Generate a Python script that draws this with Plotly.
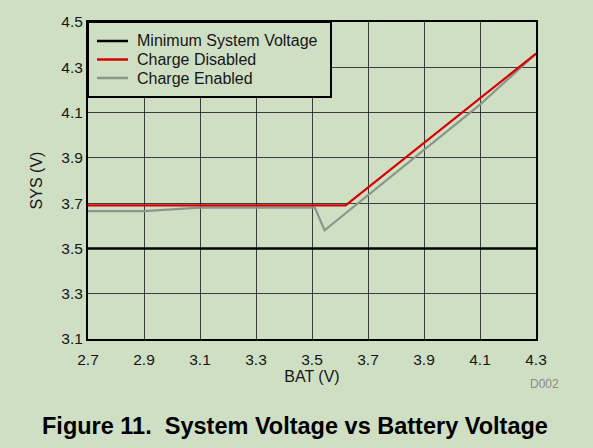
import plotly.graph_objects as go

# BAT (V) / SYS (V)
min_sys_x = [2.7, 4.3]
min_sys_y = [3.5, 3.5]

disabled_x = [2.7, 3.62, 4.3]
disabled_y = [3.69, 3.69, 4.36]

enabled_x = [2.7, 2.9, 3.1, 3.51, 3.545, 4.1, 4.3]
enabled_y = [3.665, 3.665, 3.68, 3.68, 3.58, 4.135, 4.36]

x_ticks = [2.7, 2.9, 3.1, 3.3, 3.5, 3.7, 3.9, 4.1, 4.3]
y_ticks = [3.1, 3.3, 3.5, 3.7, 3.9, 4.1, 4.3, 4.5]

legend_names = ['Minimum System Voltage', 'Charge Disabled', 'Charge Enabled']

bg = '#cfdfc4'
font_family = 'Liberation Sans, Arial, sans-serif'
text_color = '#161616'
colors = {'Minimum System Voltage': '#000000',
          'Charge Disabled': '#d80000',
          'Charge Enabled': '#8a968a'}

# plot area in pixels (figure is 593x448)
L, T, R, B = 88, 22, 536, 339
W, H = R - L, B - T


def px(x):
    return (x - L) / W


def py(y):
    return (B - y) / H


fig = go.Figure()

fig.add_trace(go.Scatter(x=min_sys_x, y=min_sys_y, mode='lines',
                         name='Minimum System Voltage',
                         line=dict(color=colors['Minimum System Voltage'], width=2.5)))
fig.add_trace(go.Scatter(x=enabled_x, y=enabled_y, mode='lines',
                         name='Charge Enabled',
                         line=dict(color=colors['Charge Enabled'], width=2.2)))
fig.add_trace(go.Scatter(x=disabled_x, y=disabled_y, mode='lines',
                         name='Charge Disabled',
                         line=dict(color=colors['Charge Disabled'], width=2.2)))

axis_common = dict(
    showgrid=True, gridcolor='rgba(20,20,20,0.8)', gridwidth=1,
    showline=True, linecolor='#000000', linewidth=2, mirror=True,
    ticks='', zeroline=False,
    tickfont=dict(size=15.5, color=text_color, family=font_family),
)

fig.update_xaxes(range=[2.7, 4.3], tickvals=x_ticks,
                 ticktext=[f'{v:.1f}' for v in x_ticks],
                 ticklabelstandoff=5,
                 title=dict(text='BAT (V)', standoff=4,
                            font=dict(size=16, color=text_color, family=font_family)),
                 **axis_common)
fig.update_yaxes(range=[3.1, 4.5], tickvals=y_ticks,
                 ticktext=[f'{v:.1f}' for v in y_ticks],
                 title=dict(text='SYS (V)', standoff=15,
                            font=dict(size=16, color=text_color, family=font_family)),
                 **axis_common)

# legend box drawn by hand, the built-in one spaces rows too far apart
fig.add_shape(type='rect', xref='paper', yref='paper',
              x0=px(L), x1=px(331), y0=py(97), y1=py(T),
              fillcolor=bg, line=dict(color='#000000', width=2), layer='above')
for i, name in enumerate(legend_names):
    row_y = 41 + i * 18.5
    fig.add_shape(type='line', xref='paper', yref='paper',
                  x0=px(97), x1=px(128), y0=py(row_y), y1=py(row_y),
                  line=dict(color=colors[name], width=2.5), layer='above')
    fig.add_annotation(text=name, xref='paper', yref='paper',
                       x=px(135), y=py(row_y), xanchor='left', yanchor='middle',
                       showarrow=False,
                       font=dict(size=16, color=text_color, family=font_family))

fig.add_annotation(text='D002', xref='paper', yref='paper', x=px(561), y=py(384),
                   xanchor='right', yanchor='middle', showarrow=False,
                   font=dict(size=12, color='#8a8a8a', family=font_family))
fig.add_annotation(text='<b>Figure 11.  System Voltage vs Battery Voltage</b>',
                   xref='paper', yref='paper', x=px(295), y=py(426),
                   xanchor='center', yanchor='middle', showarrow=False,
                   font=dict(size=23.5, color='#000000', family=font_family))

fig.update_layout(
    width=593, height=448,
    margin=dict(l=L, r=593 - R, t=T, b=448 - B),
    paper_bgcolor=bg, plot_bgcolor=bg,
    font=dict(family=font_family, size=15, color=text_color),
    showlegend=False,
)

# drop the default page margin so the figure fills the window
fig.write_html('out.html', config={'displayModeBar': False},
               post_script="document.body.style.margin='0';")
